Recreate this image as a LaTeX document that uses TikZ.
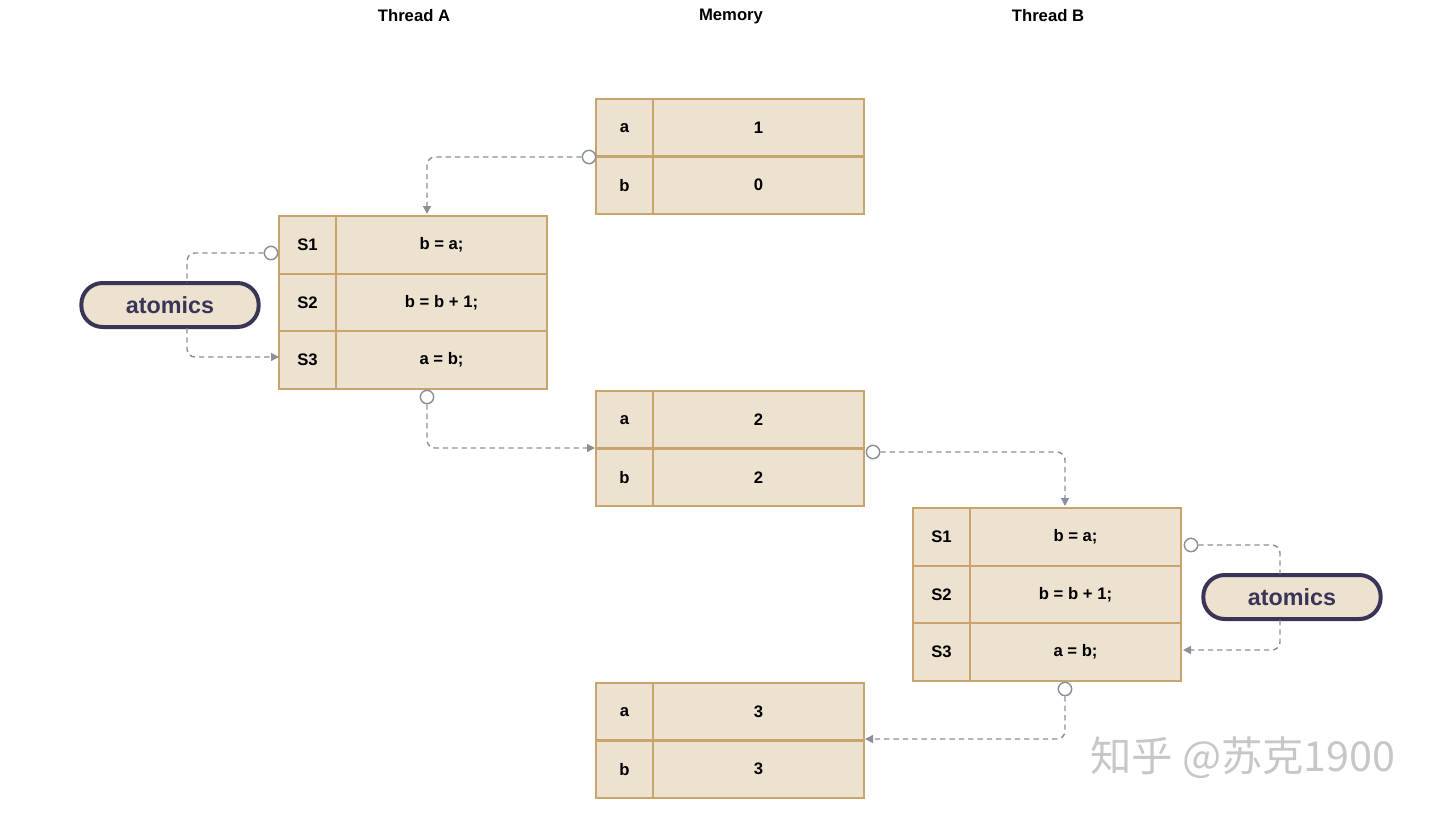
\documentclass[tikz,border=0pt]{standalone}
\usepackage{fontspec}
\setmainfont{Liberation Sans}
\newfontfamily\cjk{Noto Sans CJK SC}
\usetikzlibrary{arrows.meta}
\definecolor{cellfill}{HTML}{EDE1CF}
\definecolor{cellline}{HTML}{C9A56E}
\definecolor{pill}{HTML}{3A3556}
\definecolor{conn}{HTML}{8A9099}
\begin{document}
\begin{tikzpicture}[x=0.75pt,y=-0.75pt,
 cell/.style={draw=cellline,fill=cellfill,line width=1.6pt,font=\bfseries\fontsize{12.5}{14}\selectfont},
 pillst/.style={draw=pill,fill=cellfill,line width=3pt,rounded corners=16pt,minimum width=133pt,minimum height=33pt,font=\bfseries\fontsize{17.5}{20}\selectfont,text=pill},
 title/.style={font=\bfseries\fontsize{12.5}{14}\selectfont,text height=9pt},
 dsh/.style={draw=conn,line width=1.1pt,dash pattern=on 4pt off 3pt,rounded corners=6pt},
 arr/.style={dsh,-{Triangle[length=6pt,width=6pt]}},
 circ/.style={circle,draw=conn,fill=white,line width=1.1pt,minimum size=10pt,inner sep=0pt}]
\useasboundingbox (0,0) rectangle (1440,818);
\node[title] (ta) at (414,16) {Thread A};
\node[title] (tm) at (731,16) {Memory};
\node[title] (tb) at (1048,16) {Thread B};
% memory tables
\foreach \n/\y/\va/\vb in {m1/99/1/0, m2/391/2/2, m3/683/3/3}{
 \draw[cell] (596,\y) rectangle (653,\y+57.5) node[midway]{a};
 \draw[cell] (653,\y) rectangle (864,\y+57.5) node[midway]{\va};
 \draw[cell] (596,\y+57.5) rectangle (653,\y+115) node[midway]{b};
 \draw[cell] (653,\y+57.5) rectangle (864,\y+115) node[midway]{\vb};
}
% thread tables
\foreach \x/\y in {279/216, 913/508}{
 \draw[cell] (\x,\y) rectangle (\x+57,\y+57.7) node[midway]{S1};
 \draw[cell] (\x+57,\y) rectangle (\x+268,\y+57.7) node[midway]{b = a;};
 \draw[cell] (\x,\y+57.7) rectangle (\x+57,\y+115.4) node[midway]{S2};
 \draw[cell] (\x+57,\y+57.7) rectangle (\x+268,\y+115.4) node[midway]{b = b + 1;};
 \draw[cell] (\x,\y+115.4) rectangle (\x+57,\y+173) node[midway]{S3};
 \draw[cell] (\x+57,\y+115.4) rectangle (\x+268,\y+173) node[midway]{a = b;};
}
\node[pillst] (pa) at (170,305) {atomics};
\node[pillst] (pb) at (1292,597) {atomics};
% connectors
\coordinate (a1) at (427,214);
\coordinate (a2) at (279,357);
\coordinate (a3) at (595,448);
\coordinate (a4) at (1065,506);
\coordinate (a5) at (1183,650);
\coordinate (a6) at (865,739);
\node[circ] (c1) at (589,157) {};
\node[circ] (c2) at (271,253) {};
\node[circ] (c3) at (427,397) {};
\node[circ] (c4) at (873,452) {};
\node[circ] (c5) at (1191,545) {};
\node[circ] (c6) at (1065,689) {};
\draw[arr] (c1.west) -- (427,157) -- (a1);
\draw[dsh] (c2.west) -- (187,253) -- (187,283);
\draw[arr] (187,328) -- (187,357) -- (a2);
\draw[arr] (c3.south) -- (427,448) -- (a3);
\draw[arr] (c4.east) -- (1065,452) -- (a4);
\draw[dsh] (c5.east) -- (1280,545) -- (1280,574);
\draw[arr] (1280,620) -- (1280,650) -- (a5);
\draw[arr] (c6.south) -- (1065,739) -- (a6);
\node[text=black!22,font=\cjk\fontsize{31}{33}\selectfont] (wm) at (1243,758) {知乎 @苏克1900};
\end{tikzpicture}
\end{document}
